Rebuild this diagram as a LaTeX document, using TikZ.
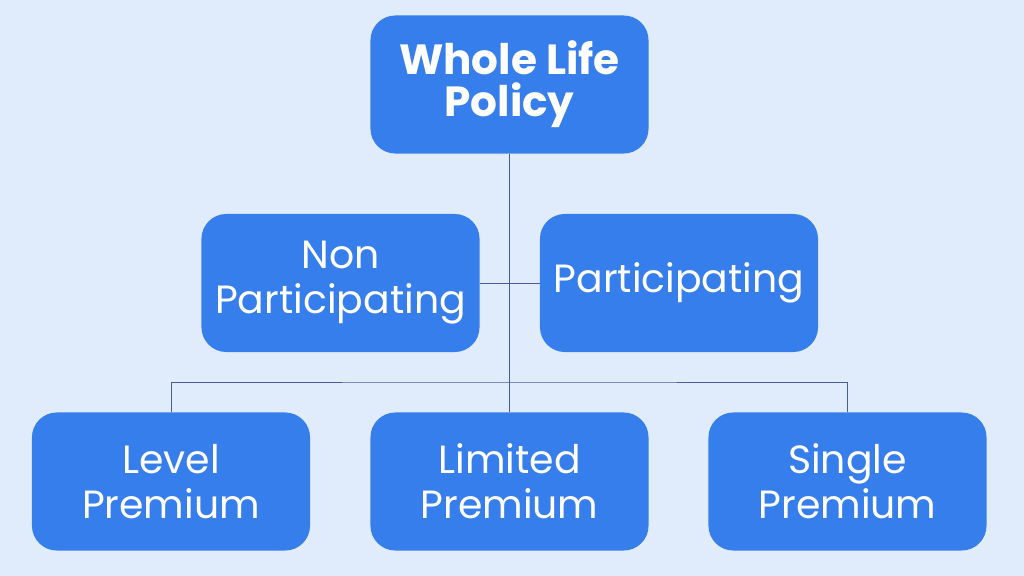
\documentclass[tikz,border=0pt]{standalone}
\usepackage{fontspec}
\setmainfont{Poppins}
\usepackage{tikz}
\usetikzlibrary{calc}
\definecolor{bgclr}   {RGB}{224, 235, 251}
\definecolor{boxclr}  {RGB}{54, 126, 236}
\definecolor{lineclr} {RGB}{72, 92, 150}

\begin{document}
\begin{tikzpicture}[x=0.025cm, y=-0.025cm,
    policy/.style={fill=boxclr, rounded corners=0.62cm, text=white,
      minimum width=6.95cm, minimum height=3.45cm, align=center,
      inner sep=0pt, font=\fontsize{28}{32}\selectfont},
    link/.style={draw=lineclr, line width=0.6pt}]
  % background
  \fill[bgclr] (0,0) rectangle (1024,576);
  \useasboundingbox (0,0) rectangle (1024,576);
  % root
  \node[policy, font=\fontsize{30}{30}\selectfont\bfseries] (whole) at (509.5,84.5)
    {Whole Life\\Policy};
  % second level
  \node[policy] (nonpart) at (340.5,283) {Non\\Participating};
  \node[policy] (part) at (679,283) {Participating};
  % premium types
  \node[policy] (level) at (171,481.5) {Level\\Premium};
  \node[policy] (limited) at (509.5,481.5) {Limited\\Premium};
  \node[policy] (single) at (847.5,481.5) {Single\\Premium};
  % connectors
  \coordinate (bus) at (509.5,382);
  \draw[link] (whole.south) -- (limited.north);
  \draw[link] (nonpart.east) -- (part.west);
  \draw[link] (level.north) |- (bus) -| (single.north);
\end{tikzpicture}
\end{document}
